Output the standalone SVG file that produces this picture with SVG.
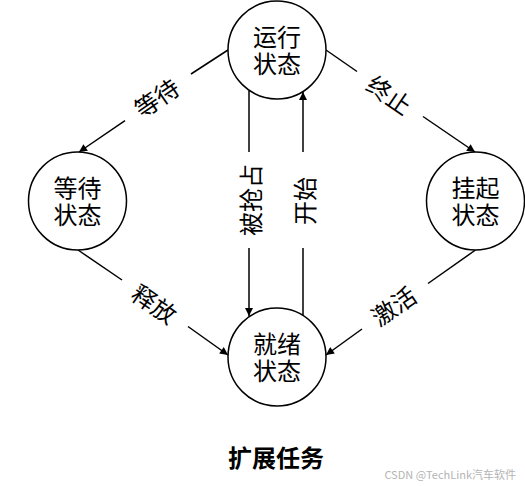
<svg xmlns="http://www.w3.org/2000/svg" width="525" height="486" viewBox="0 0 525 486">
<style>
.node{fill:#fff;stroke:#000;stroke-width:1.5}
.t{font-family:"Noto Sans CJK SC","Noto Sans",sans-serif;font-size:24px;fill:#000;text-anchor:middle;dominant-baseline:central}
.n{font-family:"Liberation Sans","Noto Sans CJK SC",sans-serif;font-size:24px;fill:#000;text-anchor:middle;dominant-baseline:central}
.edge{stroke:#000;stroke-width:1.5;fill:none}
.title{font-family:"Noto Sans CJK SC","Noto Sans",sans-serif;font-size:24px;font-weight:bold;fill:#000;text-anchor:middle;dominant-baseline:central}
.wm{font-family:"Noto Sans CJK SC","Liberation Sans",sans-serif;font-size:11px;fill:#b4b4b4;text-anchor:end;dominant-baseline:central}
</style>
<defs>
<marker id="arr" viewBox="0 0 10 10" refX="10" refY="5" markerWidth="9" markerHeight="8" markerUnits="userSpaceOnUse" orient="auto">
<path d="M0,0 L10,5 L0,10 z" fill="#000"/>
</marker>
</defs>
<rect width="525" height="486" fill="#fff"/>
<g id="connectors">
<path class="edge" d="M228,50 L191,74"/>
<path class="edge" d="M125,120.7 L79,152" marker-end="url(#arr)"/>
<text class="t" transform="translate(156,97) rotate(-34.4)">等待</text>
<path class="edge" d="M326,50 L357,71.5"/>
<path class="edge" d="M423,116.5 L475,152" marker-end="url(#arr)"/>
<text class="t" transform="translate(390,94) rotate(34.4)">终止</text>
<path class="edge" d="M78,250 L122,280"/>
<path class="edge" d="M188,326.5 L228,355" marker-end="url(#arr)"/>
<text class="t" transform="translate(155,303) rotate(34.4)">释放</text>
<path class="edge" d="M475.5,250 L428,283.5"/>
<path class="edge" d="M362,329 L326,355" marker-end="url(#arr)"/>
<text class="t" transform="translate(393,305) rotate(-34.4)">激活</text>
<path class="edge" d="M249,91 L249,152"/>
<path class="edge" d="M249,248 L249,316" marker-end="url(#arr)"/>
<text class="t" transform="translate(249,200) rotate(-90)">被抢占</text>
<path class="edge" d="M303,316 L303,248"/>
<path class="edge" d="M303,152 L303,92" marker-end="url(#arr)"/>
<text class="t" transform="translate(303,201) rotate(-90)">开始</text>
</g>
<g id="running">
<circle class="node" cx="277" cy="50" r="49"/>
<text class="n"><tspan x="277" y="36.5">运行</tspan><tspan x="277" y="63.5">状态</tspan></text>
</g>
<g id="waiting">
<circle class="node" cx="77.5" cy="201" r="49"/>
<text class="n"><tspan x="77.5" y="187.5">等待</tspan><tspan x="77.5" y="214.5">状态</tspan></text>
</g>
<g id="suspended">
<circle class="node" cx="475.5" cy="201" r="49"/>
<text class="n"><tspan x="475.5" y="187.5">挂起</tspan><tspan x="475.5" y="214.5">状态</tspan></text>
</g>
<g id="ready">
<circle class="node" cx="277" cy="357" r="49"/>
<text class="n"><tspan x="277" y="343.5">就绪</tspan><tspan x="277" y="370.5">状态</tspan></text>
</g>
<text class="title" x="276" y="456.5">扩展任务</text>
<text class="wm" x="516" y="474">CSDN @TechLink汽车软件</text>
</svg>
